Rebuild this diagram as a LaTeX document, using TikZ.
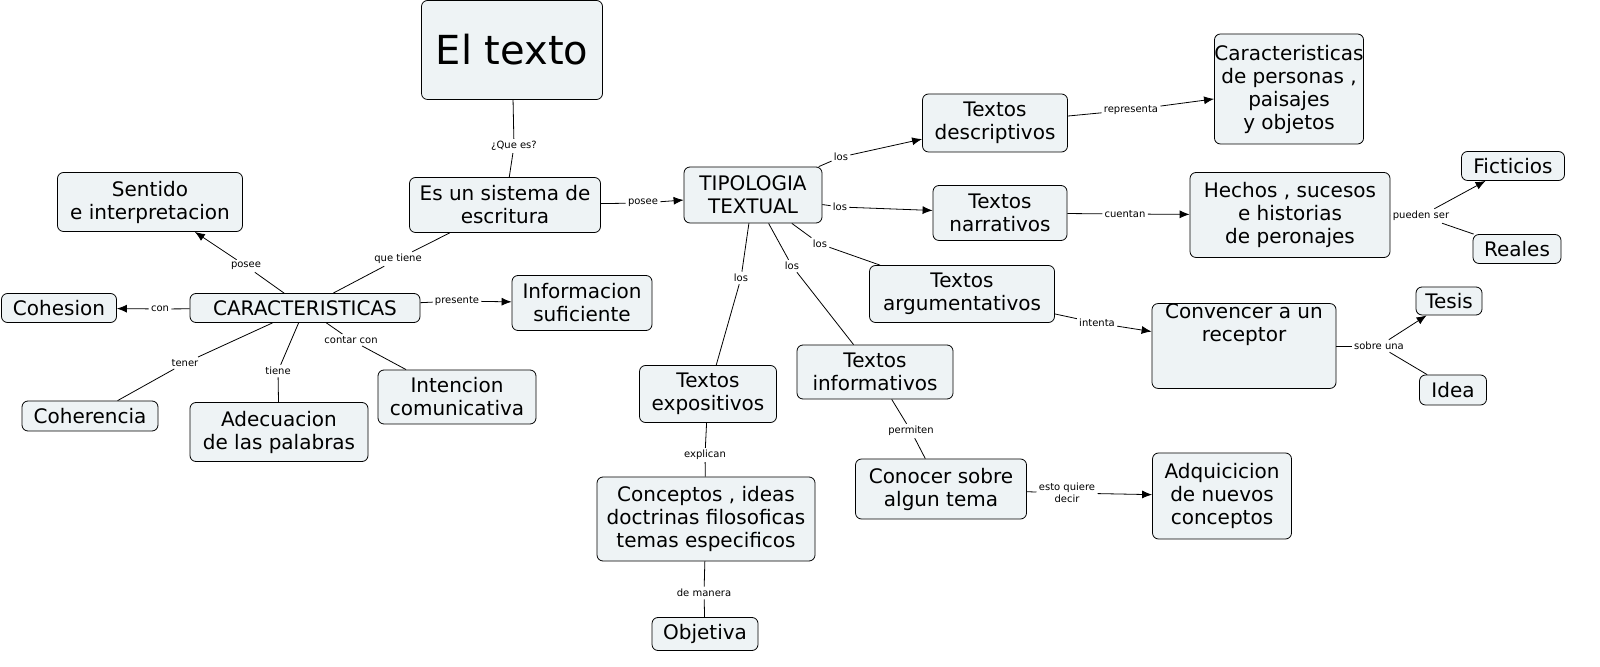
\documentclass[tikz,border=0pt]{standalone}
\usepackage{fontspec}
\setmainfont{DejaVu Sans}
\usetikzlibrary{arrows.meta}
\definecolor{cfill}{HTML}{EEF3F5}
\newcommand\cnode[5]{\node[concept,minimum width=#3*0.5pt,minimum height=#4*0.5pt] (#1) at (#2) {#5};}
\begin{document}
\begin{tikzpicture}[x=0.5pt,y=-0.5pt,
 concept/.style={draw=black,fill=cfill,rounded corners=3pt,align=center,inner sep=0pt,font=\fontsize{10}{11.5}\selectfont,line width=0.4pt},
 lbl/.style={fill=white,inner sep=1pt,align=center,font=\fontsize{5}{6}\selectfont},
 ln/.style={draw=black,line width=0.4pt},
 ar/.style={ln,-{Latex[length=5pt,width=4pt]}}]
\path[use as bounding box] (0,0) rectangle (1600,667);
\clip (0,0) rectangle (1600,667);
\fill[white] (0,0) rectangle (1600,667);
\node[concept,minimum width=90.5pt,minimum height=49.5pt,font=\fontsize{20}{24}\selectfont] (et) at (512,50) {El texto};
\cnode{es}{505,205}{191}{55}{Es un sistema de\\escritura}
\cnode{tip}{753,195}{138}{56}{TIPOLOGIA\\TEXTUAL}
\cnode{sen}{150,202}{185}{59}{Sentido\\e interpretacion}
\cnode{car}{305,308}{230}{29}{CARACTERISTICAS}
\cnode{coh}{59,308}{115}{29}{Cohesion}
\cnode{inf}{582,303}{140}{55}{Informacion\\suficiente}
\cnode{coe}{90,416}{136}{30}{Coherencia}
\cnode{ade}{279,432}{178}{59}{Adecuacion\\de las palabras}
\cnode{int}{457,397}{158}{54}{Intencion\\comunicativa}
\cnode{des}{995,123}{145}{58}{Textos\\descriptivos}
\cnode{cpp}{1289,89}{146}{110}{Caracteristicas\\de personas ,\\paisajes\\y objetos}
\cnode{nar}{1000,213}{134}{55}{Textos\\narrativos}
\cnode{hec}{1290,215}{200}{85}{Hechos , sucesos\\e historias\\de peronajes}
\cnode{fic}{1513,166}{103}{29}{Ficticios}
\cnode{rea}{1517,249}{88}{29}{Reales}
\cnode{arg}{962,294}{185}{57}{Textos\\argumentativos}
\cnode{con}{1244,346}{184}{83}{Convencer a un\\receptor\\[1.2em]}
\cnode{tes}{1449,301}{66}{28}{Tesis}
\cnode{ide}{1453,390}{67}{30}{Idea}
\cnode{inm}{875,372}{156}{54}{Textos\\informativos}
\cnode{exp}{708,394}{137}{57}{Textos\\expositivos}
\cnode{cid}{706,519}{218}{84}{Conceptos , ideas\\doctrinas filosoficas\\temas especificos}
\cnode{cst}{941,489}{171}{60}{Conocer sobre\\algun tema}
\cnode{adq}{1222,496}{139}{86}{Adquicicion\\de nuevos\\conceptos}
\cnode{obj}{705,634}{106}{33}{Objetiva}
\node[lbl] (l1) at (514,146) {¿Que es?};
\node[lbl] (l2) at (643,203) {posee};
\node[lbl] (l3) at (398,259) {que tiene};
\node[lbl] (l4) at (246,266) {posee};
\node[lbl] (l5) at (160,309) {con};
\node[lbl] (l6) at (457,301) {presente};
\node[lbl] (l7) at (185,363) {tener};
\node[lbl] (l8) at (278,371) {tiene};
\node[lbl] (l9) at (351,340) {contar con};
\node[lbl] (m1) at (841,157) {los};
\node[lbl] (m2) at (840,207) {los};
\node[lbl] (m3) at (820,244) {los};
\node[lbl] (m4) at (792,266) {los};
\node[lbl] (m5) at (741,278) {los};
\node[lbl] (n1) at (1131,110) {representa};
\node[lbl] (n2) at (1125,214) {cuentan};
\node[lbl] (n3) at (1421,216) {pueden ser};
\node[lbl] (n4) at (1097,323) {intenta};
\node[lbl] (n5) at (1379,346) {sobre una};
\node[lbl] (n6) at (911,431) {permiten};
\node[lbl] (n7) at (1067,493) {esto quiere\\decir};
\node[lbl] (n8) at (705,455) {explican};
\node[lbl] (n9) at (704,593) {de manera};
\draw[ln] (et)--(l1); \draw[ln] (l1)--(es);
\draw[ln] (es)--(l2); \draw[ar] (l2)--(tip);
\draw[ln] (es)--(l3); \draw[ln] (l3)--(car);
\draw[ln] (car)--(l4); \draw[ar] (l4)--(sen);
\draw[ln] (car)--(l5); \draw[ar] (l5)--(coh);
\draw[ln] (car)--(l6); \draw[ar] (l6)--(inf);
\draw[ln] (car)--(l7); \draw[ln] (l7)--(coe);
\draw[ln] (car)--(l8); \draw[ln] (l8)--(ade);
\draw[ln] (car)--(l9); \draw[ln] (l9)--(int);
\draw[ln] (tip)--(m1); \draw[ar] (m1)--(des);
\draw[ln] (tip)--(m2); \draw[ar] (m2)--(nar);
\draw[ln] (tip)--(m3); \draw[ln] (m3)--(arg);
\draw[ln] (tip)--(m4); \draw[ln] (m4)--(inm);
\draw[ln] (tip)--(m5); \draw[ln] (m5)--(exp);
\draw[ln] (des)--(n1); \draw[ar] (n1)--(cpp);
\draw[ln] (nar)--(n2); \draw[ar] (n2)--(hec);
\draw[ln] (hec)--(n3); \draw[ar] (n3)--(fic); \draw[ln] (n3)--(rea);
\draw[ln] (arg)--(n4); \draw[ar] (n4)--(con);
\draw[ln] (con)--(n5); \draw[ar] (n5)--(tes); \draw[ln] (n5)--(ide);
\draw[ln] (inm)--(n6); \draw[ln] (n6)--(cst);
\draw[ln] (cst)--(n7); \draw[ar] (n7)--(adq);
\draw[ln] (exp)--(n8); \draw[ln] (n8)--(cid);
\draw[ln] (cid)--(n9); \draw[ln] (n9)--(obj);
\end{tikzpicture}
\end{document}
